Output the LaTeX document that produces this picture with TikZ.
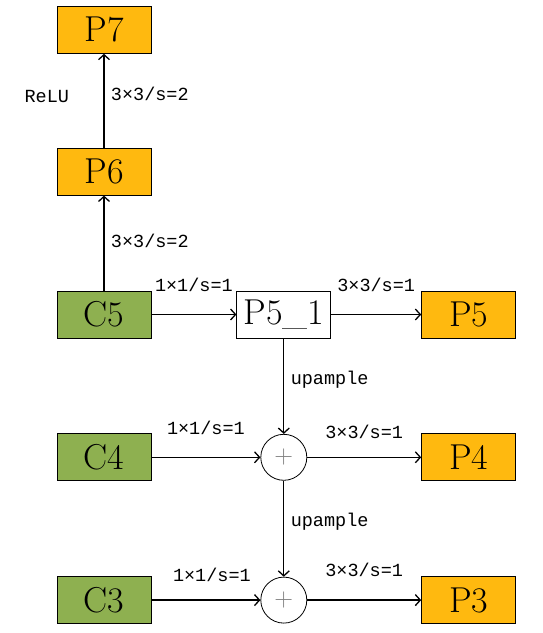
\documentclass[tikz,border=0pt]{standalone}
\usepackage{fontspec}
\setmonofont{Liberation Mono}
\usepackage{xcolor}
\usepackage{tikz}
\usetikzlibrary{positioning, arrows.meta, calc}

\definecolor{porange}{HTML}{FFB90F}
\definecolor{cgreen}{HTML}{8EB050}

\begin{document}
\begin{tikzpicture}[
    box/.style={rectangle, draw, line width=0.8pt, minimum width=94pt, minimum height=47pt, inner sep=0pt, align=center, font=\fontsize{36}{36}\selectfont},
    pbox/.style={box, fill=porange},
    cbox/.style={box, fill=cgreen},
    add/.style={circle, draw, line width=0.8pt, minimum size=46pt, inner sep=0pt, font=\fontsize{26}{26}\selectfont, text=gray},
    arrow/.style={-{Straight Barb[length=5pt, width=11pt]}, line width=1.3pt},
    note/.style={font=\fontsize{18.5}{18.5}\ttfamily}
]
\useasboundingbox (0,0) rectangle (542pt,-633pt);
\node[cbox] (c5) at (104pt,-314.5pt) {C5};
\node[pbox, above=95pt of c5] (p6) {P6};
\node[pbox, above=94pt of p6] (p7) {P7};
\node[box, right=85pt of c5] (p51) {P5\_1};
\node[pbox, right=90pt of p51] (p5) {P5};
\node[cbox, below=95pt of c5] (c4) {C4};
\node[add] (add4) at (p51 |- c4) {+};
\node[pbox] (p4) at (p5 |- c4) {P4};
\node[cbox, below=95pt of c4] (c3) {C3};
\node[add] (add3) at (p51 |- c3) {+};
\node[pbox] (p3) at (p5 |- c3) {P3};
% bottom-up path
\draw[arrow] (c5) -- node[note, right=3pt, pos=0.52] {3×3/s=2} (p6);
\draw[arrow] (p6) -- node[note, right=3pt, pos=0.57] {3×3/s=2} node[note, left=31pt, pos=0.55] {ReLU} (p7);
% lateral + top-down
\draw[arrow] (c5) -- node[note, above=19pt] {1×1/s=1} (p51);
\draw[arrow] (p51) -- node[note, above=19pt] {3×3/s=1} (p5);
\draw[arrow] (p51) -- node[note, right=3pt, pos=0.43] {upample} (add4);
\draw[arrow] (c4) -- node[note, above=19pt] {1×1/s=1} (add4);
\draw[arrow] (add4) -- node[note, above=15pt] {3×3/s=1} (p4);
\draw[arrow] (add4) -- node[note, right=3pt, pos=0.43] {upample} (add3);
\draw[arrow] (c3) -- node[note, above=14pt, xshift=6pt] {1×1/s=1} (add3);
\draw[arrow] (add3) -- node[note, above=19pt] {3×3/s=1} (p3);
\end{tikzpicture}
\end{document}
